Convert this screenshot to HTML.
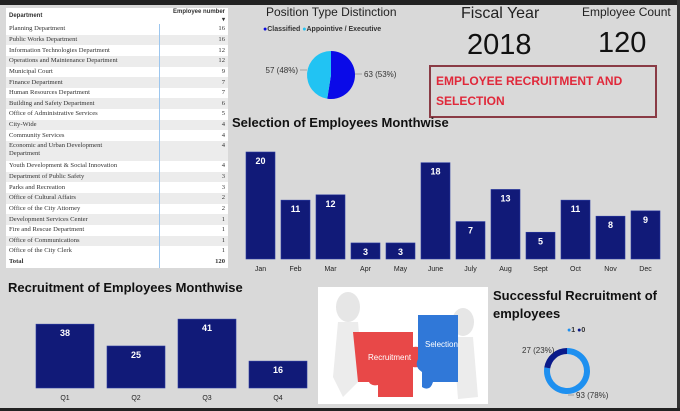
<!DOCTYPE html>
<html><head><meta charset="utf-8"><style>
body{margin:0;width:680px;height:411px;overflow:hidden;background:#d9d9d9;font-family:"Liberation Sans",sans-serif;position:relative}
.a{position:absolute}
table{border-collapse:collapse;font-family:"Liberation Serif",serif;font-size:6.6px;color:#333}
td{padding:0 3px;height:10.65px;line-height:8px;box-sizing:border-box}
</style></head><body>
<div class="a" style="left:0;top:0;width:680px;height:5px;background:#222"></div>
<div class="a" style="left:677px;top:0;width:3px;height:411px;background:#333"></div>
<div class="a" style="left:0;top:408px;width:680px;height:3px;background:#222"></div>

<div class="a" style="left:6px;top:8px;width:222px;height:260px;background:#fff">
<table style="width:222px" id="tbl"><tr style="height:16px;font-family:'Liberation Sans';font-weight:bold;font-size:6px;color:#333"><td>Department</td><td style="text-align:right">Employee number<br>▾</td></tr></table>
<div class="a" style="left:153px;top:16px;width:1px;height:244px;background:#9cc6ee"></div>
</div>

<div class="a" style="left:266px;top:5px;font-size:12px;color:#222">Position Type Distinction</div>
<div class="a" style="left:263px;top:26px;font-size:7px;font-weight:bold;color:#333"><span style="color:#0a0ae0">●</span>Classified <span style="color:#21c3f3">●</span>Appointive / Executive</div>
<svg class="a" style="left:230px;top:40px" width="200" height="75" id="pie"></svg>

<div class="a" style="left:461px;top:5px;font-size:16px;color:#222">Fiscal Year</div>
<div class="a" style="left:467px;top:29px;font-size:29px;color:#111">2018</div>
<div class="a" style="left:582px;top:5px;font-size:12px;color:#222">Employee Count</div>
<div class="a" style="left:598px;top:27px;font-size:29px;color:#111">120</div>
<div class="a" style="left:429px;top:65px;color:#e0283a;font-weight:bold;font-size:12px;line-height:20px;padding:4px 0 0 5px;box-sizing:border-box;width:228px;height:53px;border:2px solid #8a3b45">EMPLOYEE RECRUITMENT AND<br>SELECTION</div>

<div class="a" style="left:232px;top:115px;font-size:13px;font-weight:bold;color:#111">Selection of Employees Monthwise</div>
<svg class="a" style="left:230px;top:130px" width="447" height="150" id="mc"></svg>

<div class="a" style="left:8px;top:280px;font-size:13px;font-weight:bold;color:#111">Recruitment of Employees Monthwise</div>
<svg class="a" style="left:0;top:300px" width="318" height="108" id="qc"></svg>

<svg class="a" style="left:318px;top:287px" width="170" height="117">
<rect width="170" height="117" fill="#fff"/>
<ellipse cx="30" cy="20" rx="12" ry="15" fill="#e6e6e6"/><path d="M20 35 L40 35 L45 90 L25 110 L15 90Z" fill="#ececec"/>
<ellipse cx="145" cy="35" rx="11" ry="14" fill="#e6e6e6"/><path d="M135 50 L155 50 L160 110 L140 112Z" fill="#ececec"/>
<path d="M35 45 H95 V60 Q105 58 105 70 Q105 82 95 80 V110 H60 V98 Q50 100 50 90 Q50 80 60 82 V95 H40Z" fill="#e84848"/>
<text x="50" y="73" font-size="8" fill="#fff" font-family="Liberation Sans">Recruitment</text>
<path d="M100 28 H140 V95 H115 Q112 105 104 100 V85 Q96 80 100 72Z" fill="#3078d8"/>
<text x="107" y="60" font-size="8" fill="#fff" font-family="Liberation Sans">Selection</text>
</svg>

<div class="a" style="left:493px;top:287px;font-size:13px;font-weight:bold;color:#111;line-height:18px">Successful Recruitment of<br>employees</div>
<div class="a" style="left:567px;top:327px;font-size:7px;font-weight:bold;color:#333"><span style="color:#1e90f0">●</span>1 <span style="color:#0a1a8a">●</span>0</div>
<svg class="a" style="left:510px;top:340px" width="168" height="65" id="dn"></svg>

<script>
const depts=["Planning Department","Public Works Department","Information Technologies Department","Operations and Maintenance Department","Municipal Court","Finance Department","Human Resources Department","Building and Safety Department","Office of Administrative Services","City-Wide","Community Services","Economic and Urban Development Department","Youth Development & Social Innovation","Department of Public Safety","Parks and Recreation","Office of Cultural Affairs","Office of the City Attorney","Development Services Center","Fire and Rescue Department","Office of Communications","Office of the City Clerk"];
const deptCounts=[16,16,12,12,9,7,7,6,5,4,4,4,4,3,3,2,2,1,1,1,1];
const months=["Jan","Feb","Mar","Apr","May","June","July","Aug","Sept","Oct","Nov","Dec"];
const monthVals=[20,11,12,3,3,18,7,13,5,11,8,9];
const quarters=["Q1","Q2","Q3","Q4"];
const quarterVals=[38,25,41,16];
const pieLabels=["Classified","Appointive / Executive"];
const pieVals=[63,57];
const donutLabels=["1","0"];
const donutVals=[93,27];
const NS="http://www.w3.org/2000/svg";
function mk(p,t,a){const e=document.createElementNS(NS,t);for(const k in a)e.setAttribute(k,a[k]);p.appendChild(e);return e;}
const tbl=document.getElementById('tbl');
depts.forEach((d,i)=>{const tr=document.createElement('tr');


if(i%2)tr.style.background='#ececec';
const wrap=d.length>38;
const label=wrap?d.replace(' Department','<br>Department'):d;
const st=wrap?'height:20px;vertical-align:top;padding-top:1px':'';
tr.innerHTML='<td style="'+st+'">'+label+'</td><td style="text-align:right;'+st+'">'+deptCounts[i]+'</td>';tbl.appendChild(tr);});
const tot=document.createElement('tr');


tot.style.fontWeight='bold';
tot.innerHTML='<td>Total</td><td style="text-align:right">'+deptCounts.reduce((a,b)=>a+b,0)+'</td>';tbl.appendChild(tot);
function bars(svg,cats,vals,x0,pitch,w,base,scale,fs,nm){
cats.forEach((c,i)=>{const h=vals[i]*scale,x=x0+i*pitch;
const r=mk(svg,'rect',{x:x,y:base-h,width:w,height:h,fill:'#111a78',stroke:'#2a3aa0','stroke-width':0.6});


const t=mk(svg,'text',{x:x+w/2,y:base-h+12,'text-anchor':'middle','font-size':fs,'font-weight':'bold',fill:'#fff'});t.textContent=vals[i];
const l=mk(svg,'text',{x:x+w/2,y:base+12,'text-anchor':'middle','font-size':7,fill:'#222'});l.textContent=c;});}
bars(document.getElementById('mc'),months,monthVals,16,35,29,129,5.35,9,'bar');
bars(document.getElementById('qc'),quarters,quarterVals,36,71,58,88,1.68,9,'bar');
function arcPath(cx,cy,r,ri,a0,a1){const p=(a,rr)=>[cx+rr*Math.sin(a),cy-rr*Math.cos(a)];const lg=a1-a0>Math.PI?1:0;
const [x0,y0]=p(a0,r),[x1,y1]=p(a1,r);
if(!ri)return `M${cx} ${cy}L${x0} ${y0}A${r} ${r} 0 ${lg} 1 ${x1} ${y1}Z`;
const [x2,y2]=p(a1,ri),[x3,y3]=p(a0,ri);return `M${x0} ${y0}A${r} ${r} 0 ${lg} 1 ${x1} ${y1}L${x2} ${y2}A${ri} ${ri} 0 ${lg} 0 ${x3} ${y3}Z`;}
function ring(svg,vals,cols,cx,cy,r,ri,nm){const tot=vals.reduce((a,b)=>a+b,0);let a=0;
vals.forEach((v,i)=>{const a1=a+v/tot*2*Math.PI;const p=mk(svg,'path',{d:arcPath(cx,cy,r,ri,a,a1),fill:cols[i]});


a=a1;});return tot;}
const pie=document.getElementById('pie');
const pt=ring(pie,pieVals,['#0a0ae8','#21c3f3'],101,35,24,0,'pie');
mk(pie,'line',{x1:125,y1:34,x2:132,y2:34,stroke:'#888','stroke-width':0.7});
mk(pie,'line',{x1:70,y1:30,x2:77,y2:30,stroke:'#888','stroke-width':0.7});
let t=mk(pie,'text',{x:134,y:37,'font-size':8,fill:'#333'});t.textContent=pieVals[0]+' ('+Math.round(pieVals[0]/pt*100)+'%)';
t=mk(pie,'text',{x:68,y:33,'font-size':8,fill:'#333','text-anchor':'end'});t.textContent=pieVals[1]+' ('+Math.round(pieVals[1]/pt*100)+'%)';
const dn=document.getElementById('dn');
const dt=ring(dn,donutVals,['#1e90f0','#0a1a8a'],57,31,23,17,'donut');
mk(dn,'line',{x1:58,y1:55,x2:64,y2:55,stroke:'#888','stroke-width':0.7});
t=mk(dn,'text',{x:66,y:58,'font-size':8,fill:'#333'});t.textContent=donutVals[0]+' ('+Math.round(donutVals[0]/dt*100)+'%)';
const lb=document.createElement('div');lb.className='a';lb.style.cssText='left:522px;top:346px;font-size:8px;color:#333';


lb.textContent=donutVals[1]+' ('+Math.round(donutVals[1]/dt*100)+'%)';document.body.appendChild(lb);
</script>
</body></html>
